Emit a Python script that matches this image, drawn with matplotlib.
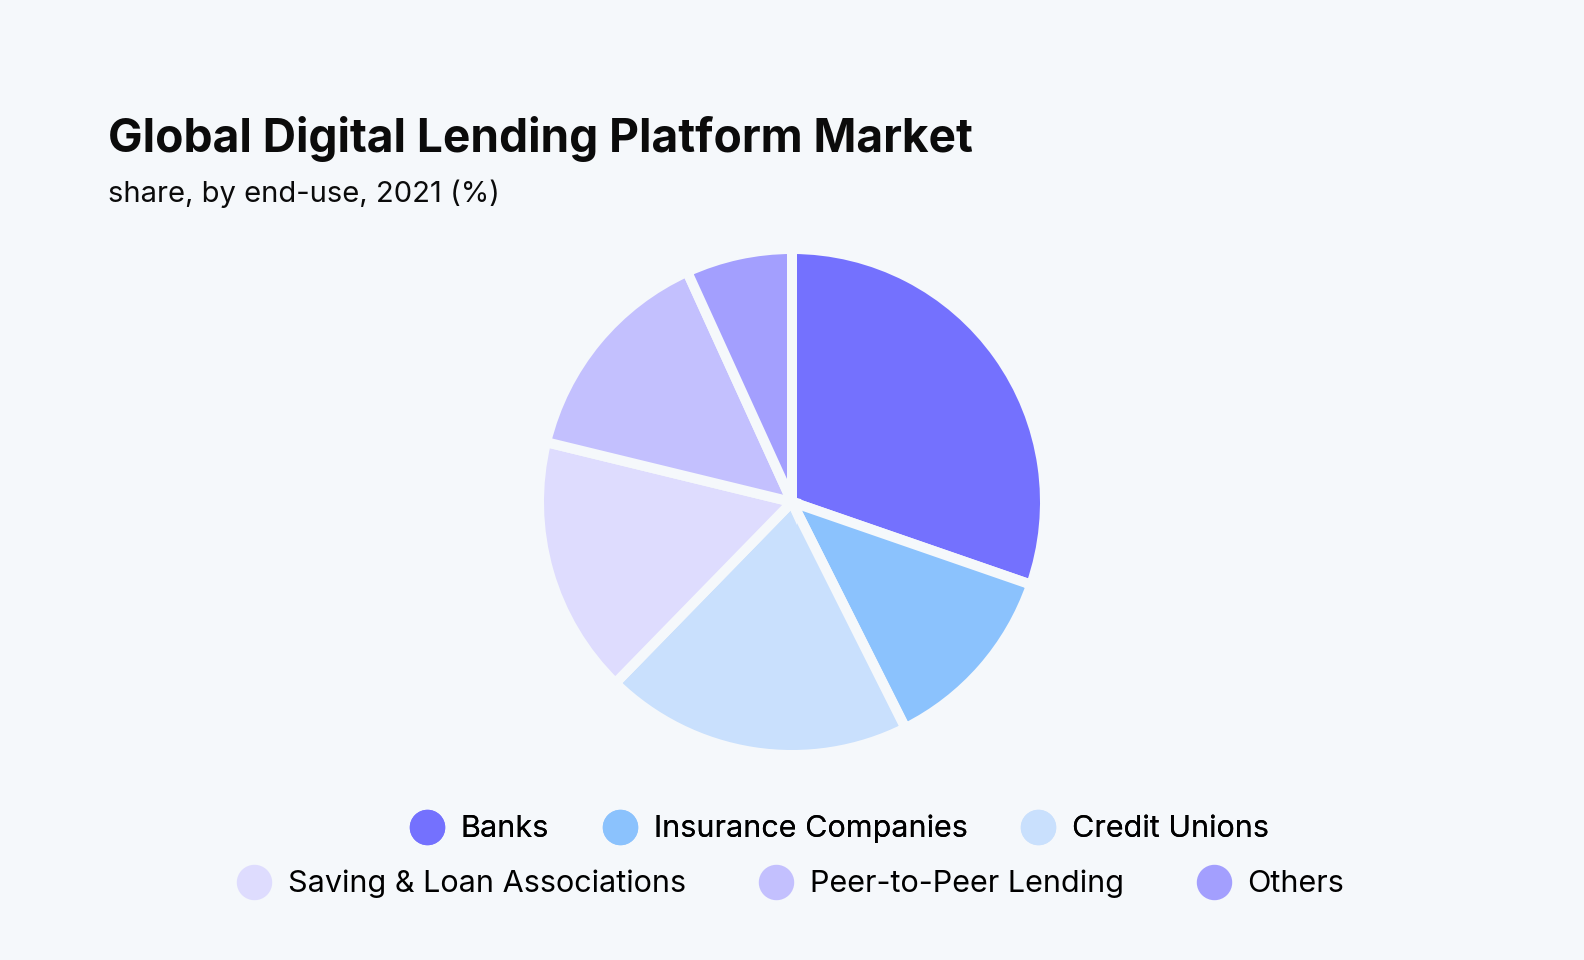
import matplotlib
matplotlib.use("Agg")
import matplotlib.pyplot as plt
from matplotlib.lines import Line2D

# data
categories = ["Banks", "Insurance Companies", "Credit Unions",
              "Saving & Loan Associations", "Peer-to-Peer Lending", "Others"]
shares = [30.3, 12.3, 19.7, 16.5, 14.4, 6.8]
colors = ["#7471FE", "#8BC2FD", "#C9E0FD", "#DEDCFE", "#C3C0FE", "#A39FFE"]

title = "Global Digital Lending Platform Market"
subtitle = "share, by end-use, 2021 (%)"

BG = "#F5F8FB"
W, H = 1584, 960

plt.rcParams["font.family"] = ["Inter", "DejaVu Sans"]

fig = plt.figure(figsize=(W / 100, H / 100), dpi=100, facecolor=BG)

# pie axes, centre (792, 502) px, radius incl. half edge 253 px
r_px = 253
cx, cy = 792, 502
ax = fig.add_axes([(cx - r_px) / W, 1 - (cy + r_px) / H, 2 * r_px / W, 2 * r_px / H])
ax.set_facecolor(BG)
ax.pie(shares, colors=colors, startangle=90, counterclock=False, radius=1,
       wedgeprops=dict(edgecolor=BG, linewidth=7.2))
ax.set_xlim(-1, 1)
ax.set_ylim(-1, 1)
ax.axis("off")

fig.text(108 / W, 1 - 152 / H, title, fontsize=33.2, fontweight="bold",
         color="#0B0B0B", ha="left", va="baseline")
fig.text(108 / W, 1 - 202 / H, subtitle, fontsize=21, color="#0B0B0B",
         ha="left", va="baseline")

def handles(idx):
    return [Line2D([], [], marker="o", linestyle="", markersize=24.5,
                   markerfacecolor=colors[i], markeredgecolor=colors[i])
            for i in idx]

row1 = [0, 1, 2]
row2 = [3, 4, 5]
leg1 = fig.legend(handles(row1), [categories[i] for i in row1], ncol=3,
                  loc="center", bbox_to_anchor=(839 / W, 1 - 829 / H),
                  frameon=False, fontsize=22, handletextpad=0.5,
                  columnspacing=1.72, handlelength=1.2)
fig.add_artist(leg1)
leg2 = fig.legend(handles(row2), [categories[i] for i in row2], ncol=3,
                  loc="center", bbox_to_anchor=(790 / W, 1 - 884 / H),
                  frameon=False, fontsize=22, handletextpad=0.5,
                  columnspacing=2.35, handlelength=1.2)

fig.savefig("out.png", dpi=100, facecolor=BG)
